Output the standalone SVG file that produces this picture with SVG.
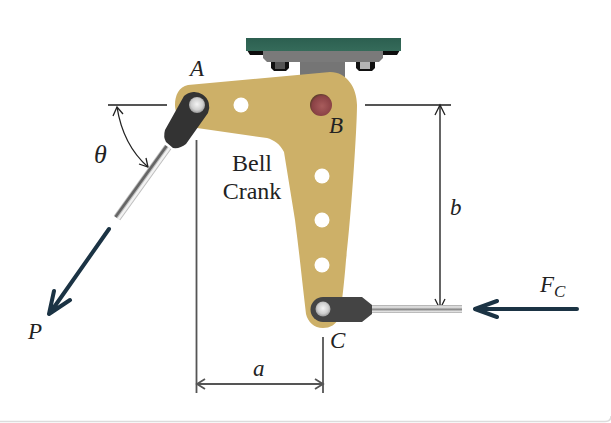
<svg xmlns="http://www.w3.org/2000/svg" width="611" height="423" viewBox="0 0 611 423">
<style>
text{font-family:"Liberation Serif","Times New Roman",serif;fill:#222}
.i{font-style:italic;font-size:23px}
.l{font-size:24px;text-anchor:middle}
.dim{fill:none;stroke:#555;stroke-width:1.8}
.thin{fill:none;stroke:#222;stroke-width:1.3}
.force{fill:none;stroke:#1b3344;stroke-width:4;stroke-linecap:round;stroke-linejoin:round}
.hole{fill:#fff}
</style>
<defs>
<linearGradient id="green" x1="0" y1="0" x2="0" y2="1"><stop offset="0" stop-color="#2c5f50"/><stop offset="1" stop-color="#356b5a"/></linearGradient>
<linearGradient id="steel" x1="0" y1="0" x2="0" y2="1"><stop offset="0" stop-color="#a5a5a5"/><stop offset=".25" stop-color="#ececec"/><stop offset=".55" stop-color="#888"/><stop offset=".8" stop-color="#e4e4e4"/><stop offset="1" stop-color="#aaa"/></linearGradient>
<radialGradient id="pin" cx=".5" cy=".45" r=".6"><stop offset="0" stop-color="#f4f4f4"/><stop offset=".6" stop-color="#cfcfcf"/><stop offset="1" stop-color="#8a8a8a"/></radialGradient>
<radialGradient id="red" cx=".55" cy=".55" r=".6"><stop offset="0" stop-color="#a85c5c"/><stop offset=".75" stop-color="#8a4145"/><stop offset="1" stop-color="#4a3a20"/></radialGradient>
</defs>

<g id="frame"><path d="M0 421.500H605Q611 421.500 611 416" fill="none" stroke="#dcdcdc" stroke-width="1.500"/></g>

<g id="support">
<path d="M247 50H400L397 55H382V51H263V55H250Z" fill="#0d0d0d"/>
<rect x="246" y="38" width="155" height="13" fill="url(#green)"/>
<rect x="300" y="60" width="45" height="17" fill="#757575"/>
<path d="M271 61H289V68L286 71H274L271 68Z" fill="#111"/>
<path d="M356 61H375V68L372 71H359L356 68Z" fill="#111"/>
<rect x="275" y="62" width="10" height="7" fill="#555"/>
<rect x="360" y="62" width="10" height="7" fill="#b5b5b5"/>
<path d="M263 51H383V58L379 62H267L263 58Z" fill="#7a7a7a"/>
</g>

<g id="connectors">
<path class="dim" d="M108 105H167M365 105H451M196.500 140V393M323 337V393M197 384H323M440 105V309"/>
<path class="dim" d="M205 379L197 384L205 389M315 379L323 384L315 389"/>
<path class="thin" d="M435 115L440 105L445 115M435 299L440 309L445 299"/>
<path class="thin" d="M117 107Q123 145 148 167"/>
<path class="thin" d="M113 116L117 107L123 114M139 164L148 167L146 158"/>
</g>

<g id="rod-a">
<path d="M168 147L117 218" fill="none" stroke="#bdbdbd" stroke-width="8"/>
<path d="M166.500 146L115.500 217" fill="none" stroke="#666" stroke-width="2.600"/>
<path d="M169.500 148L118.500 219" fill="none" stroke="#f2f2f2" stroke-width="2.400"/>
</g>
<g id="rod-c"><rect x="372" y="305" width="90" height="8" fill="url(#steel)"/></g>

<g id="crank">
<path d="M175 105C175 95 179 87 188 85L330 72C347 72 357 88 357 105C357 130 351 220 346 260C344 285 342 300 340 316C336 325 330 328 323 328C314 328 308 322 306 314C302 280 299 250 295 220L284 152C280 144 274 140 267 138L197 128C184 126 175 116 175 105Z" fill="#cdb068"/>
<circle class="hole" cx="241" cy="105" r="7.500"/>
<circle class="hole" cx="322" cy="176" r="7.500"/>
<circle class="hole" cx="322" cy="220" r="7.500"/>
<circle class="hole" cx="322" cy="265" r="7.500"/>
<circle cx="321" cy="105" r="11" fill="url(#red)"/>
</g>

<g id="link-a">
<path d="M184 96A15 15 0 0 1 208 113L186 144Q180 149 173 148L166 142Q163 137 165 130Z" fill="#333"/>
<circle cx="197" cy="105" r="8" fill="url(#pin)"/>
</g>
<g id="link-c">
<path d="M323 297H362L372 305V314L362 322H323A12.500 12.500 0 0 1 323 297Z" fill="#444"/>
<circle cx="323" cy="309" r="7.500" fill="url(#pin)"/>
</g>

<g id="force-p">
<path class="force" d="M109 229L50 313M54 291L49 314L70 300"/>
</g>
<g id="force-fc">
<path class="force" d="M577 309H476M497 301L475 309L497 317"/>
</g>

<g id="labels">
<text class="i" x="190" y="76">A</text>
<text class="i" x="329" y="133">B</text>
<text class="i" x="330" y="348">C</text>
<text class="i" x="28" y="339">P</text>
<text class="i" x="94" y="163" style="font-size:26px">θ</text>
<text class="i" x="450" y="215">b</text>
<text class="i" x="253" y="376">a</text>
<text class="i" x="540" y="292">F<tspan font-size="17" dy="5">C</tspan></text>
<text class="l" x="252" y="171">Bell</text>
<text class="l" x="252" y="199">Crank</text>
</g>
</svg>
